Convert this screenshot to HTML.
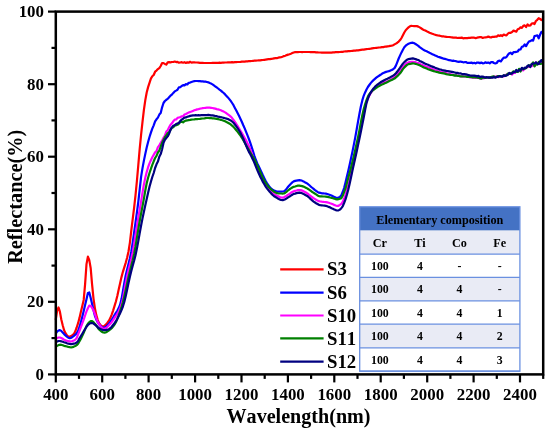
<!DOCTYPE html>
<html lang="en">
<head>
<meta charset="utf-8">
<title>Reflectance spectra</title>
<style>
html,body{margin:0;padding:0;background:#fff;}
body{width:550px;height:431px;overflow:hidden;font-family:"Liberation Serif",serif;}
</style>
</head>
<body>
<svg width="550" height="431" viewBox="0 0 550 431" style="display:block;font-kerning:none" font-family="'Liberation Serif','Times New Roman',serif" font-weight="bold" fill="#000">
<rect width="550" height="431" fill="#ffffff"/>
<g id="curves">
<path d="M55.7,320.0 57.1,310.7 58.5,307.4 59.9,311.7 61.3,319.5 62.7,325.3 64.1,330.3 65.5,333.2 66.9,335.2 68.3,336.5 69.7,336.7 71.1,336.1 72.5,335.2 73.9,333.9 75.3,331.3 76.7,327.5 78.1,323.2 79.5,317.9 80.9,311.7 82.3,306.0 83.7,299.9 85.1,284.2 86.5,264.1 87.9,256.7 89.3,260.1 90.7,268.3 92.1,284.7 93.5,298.6 94.9,308.1 96.3,315.1 97.7,319.8 99.1,323.3 100.5,325.0 101.9,326.1 103.3,326.4 104.7,325.6 106.1,324.3 107.5,322.7 108.9,320.7 110.3,318.1 111.7,314.6 113.1,310.6 114.5,306.2 115.9,301.5 117.3,295.9 118.7,289.5 120.1,283.2 121.5,277.1 122.9,271.8 124.3,267.3 125.7,262.8 127.1,257.7 128.5,251.5 129.9,242.6 131.3,230.5 132.7,219.2 134.1,207.9 135.5,195.3 136.9,181.0 138.3,165.1 139.7,148.9 141.1,134.7 142.5,121.9 143.9,109.9 145.3,100.1 146.7,92.5 148.1,87.1 149.5,82.8 150.9,78.6 152.3,76.3 153.7,75.0 155.1,71.7 156.5,70.6 157.9,69.1 159.3,68.1 160.7,66.0 162.1,63.1 163.5,63.1 164.9,63.9 166.3,64.6 167.7,62.4 169.1,62.1 170.5,62.3 171.9,62.0 173.3,62.0 174.7,61.5 176.1,62.1 177.5,61.9 178.9,62.7 180.3,62.5 181.7,62.2 183.1,62.7 184.5,62.2 185.9,62.9 187.3,62.4 188.7,62.7 190.1,61.8 191.5,62.6 192.9,62.4 194.3,62.4 195.7,62.5 197.1,62.5 198.5,62.7 199.9,62.9 201.3,62.8 202.7,62.9 204.1,63.0 205.5,63.0 206.9,63.0 208.3,63.0 209.7,63.0 211.1,63.0 212.5,62.9 213.9,62.9 215.3,62.9 216.7,62.8 218.1,62.8 219.5,62.7 220.9,62.8 222.3,62.7 223.7,62.6 225.1,62.5 226.5,62.5 227.9,62.4 229.3,62.4 230.7,62.4 232.1,62.2 233.5,62.3 234.9,62.1 236.3,62.1 237.7,62.0 239.1,62.0 240.5,61.9 241.9,61.7 243.3,61.7 244.7,61.6 246.1,61.4 247.5,61.3 248.9,61.2 250.3,61.1 251.7,61.0 253.1,60.8 254.5,60.7 255.9,60.6 257.3,60.5 258.7,60.3 260.1,60.3 261.5,60.1 262.9,60.0 264.3,59.8 265.7,59.6 267.1,59.4 268.5,59.2 269.9,59.1 271.3,58.9 272.7,58.7 274.1,58.4 275.5,58.2 276.9,58.1 278.3,57.7 279.7,57.4 281.1,57.1 282.5,56.7 283.9,56.1 285.3,55.7 286.7,55.1 288.1,54.6 289.5,54.2 290.9,53.7 292.3,53.1 293.7,52.5 295.1,52.2 296.5,52.1 297.9,52.1 299.3,52.0 300.7,52.0 302.1,52.1 303.5,52.0 304.9,52.0 306.3,52.0 307.7,52.0 309.1,52.0 310.5,52.1 311.9,52.1 313.3,52.1 314.7,52.2 316.1,52.4 317.5,52.4 318.9,52.5 320.3,52.5 321.7,52.6 323.1,52.7 324.5,52.7 325.9,52.7 327.3,52.7 328.7,52.7 330.1,52.6 331.5,52.6 332.9,52.4 334.3,52.4 335.7,52.2 337.1,52.2 338.5,52.1 339.9,52.0 341.3,51.9 342.7,51.8 344.1,51.5 345.5,51.4 346.9,51.4 348.3,51.2 349.7,51.1 351.1,51.0 352.5,50.8 353.9,50.6 355.3,50.6 356.7,50.4 358.1,50.3 359.5,50.1 360.9,49.9 362.3,49.7 363.7,49.6 365.1,49.3 366.5,49.1 367.9,49.0 369.3,48.8 370.7,48.7 372.1,48.4 373.5,48.2 374.9,48.0 376.3,47.8 377.7,47.7 379.1,47.5 380.5,47.4 381.9,47.2 383.3,47.1 384.7,46.7 386.1,46.6 387.5,46.3 388.9,46.1 390.3,45.8 391.7,45.6 393.1,45.2 394.5,44.4 395.9,43.6 397.3,42.7 398.7,41.6 400.1,40.1 401.5,38.0 402.9,35.3 404.3,32.5 405.7,30.2 407.1,28.8 408.5,27.4 409.9,26.3 411.3,25.9 412.7,26.0 414.1,26.1 415.5,26.0 416.9,26.1 418.3,26.6 419.7,27.4 421.1,28.3 422.5,29.2 423.9,30.0 425.3,30.6 426.7,31.3 428.1,31.9 429.5,32.7 430.9,33.2 432.3,33.8 433.7,34.3 435.1,34.7 436.5,35.2 437.9,35.5 439.3,35.7 440.7,36.0 442.1,36.3 443.5,36.3 444.9,36.7 446.3,36.8 447.7,37.0 449.1,37.0 450.5,37.2 451.9,37.3 453.3,37.6 454.7,37.6 456.1,37.7 457.5,38.0 458.9,37.8 460.3,37.9 461.7,37.6 463.1,38.3 464.5,38.2 465.9,38.2 467.3,38.1 468.7,37.9 470.1,37.9 471.5,37.7 472.9,37.7 474.3,37.7 475.7,38.1 477.1,37.7 478.5,37.4 479.9,37.2 481.3,37.1 482.7,38.0 484.1,37.5 485.5,37.3 486.9,37.1 488.3,36.6 489.7,37.1 491.1,37.5 492.5,36.8 493.9,36.8 495.3,36.6 496.7,36.6 498.1,35.4 499.5,35.9 500.9,35.2 502.3,36.0 503.7,34.5 505.1,35.1 506.5,35.4 507.9,33.6 509.3,32.8 510.7,32.8 512.1,32.0 513.5,30.6 514.9,31.1 516.3,31.7 517.7,29.2 519.1,28.7 520.5,27.3 521.9,27.9 523.3,25.9 524.7,25.4 526.1,27.1 527.5,24.4 528.9,25.7 530.3,25.5 531.7,23.6 533.1,23.2 534.5,24.0 535.9,21.0 537.3,19.8 538.7,18.2 540.1,19.0 541.5,20.0 542.9,18.7 543.0,16.4" fill="none" stroke="#ff0000" stroke-width="2.2" stroke-linejoin="round" stroke-linecap="butt"/>
<path d="M55.7,333.7 57.1,331.6 58.5,330.5 59.9,330.1 61.3,330.9 62.7,332.6 64.1,334.1 65.5,335.4 66.9,336.7 68.3,337.7 69.7,338.1 71.1,337.9 72.5,337.0 73.9,335.9 75.3,334.7 76.7,333.2 78.1,330.8 79.5,327.0 80.9,322.0 82.3,316.7 83.7,311.0 85.1,305.0 86.5,299.2 87.9,293.0 89.3,292.5 90.7,298.0 92.1,303.9 93.5,310.2 94.9,315.8 96.3,319.4 97.7,322.2 99.1,324.2 100.5,325.9 101.9,327.2 103.3,328.0 104.7,327.6 106.1,326.6 107.5,325.2 108.9,323.8 110.3,322.0 111.7,319.8 113.1,317.5 114.5,315.1 115.9,312.9 117.3,310.8 118.7,308.1 120.1,304.7 121.5,299.1 122.9,291.3 124.3,282.9 125.7,275.5 127.1,269.5 128.5,264.0 129.9,258.3 131.3,251.5 132.7,242.7 134.1,232.7 135.5,222.7 136.9,212.7 138.3,201.9 139.7,189.3 141.1,176.9 142.5,168.1 143.9,160.6 145.3,153.9 146.7,147.6 148.1,142.0 149.5,137.0 150.9,132.7 152.3,128.7 153.7,125.3 155.1,121.4 156.5,119.3 157.9,117.6 159.3,114.6 160.7,113.1 162.1,107.3 163.5,103.0 164.9,101.0 166.3,99.8 167.7,98.9 169.1,97.2 170.5,95.7 171.9,94.6 173.3,92.9 174.7,91.4 176.1,90.6 177.5,89.7 178.9,87.3 180.3,87.2 181.7,86.0 183.1,85.1 184.5,85.4 185.9,84.1 187.3,84.5 188.7,82.8 190.1,82.6 191.5,82.0 192.9,81.5 194.3,81.2 195.7,81.0 197.1,81.0 198.5,81.1 199.9,81.1 201.3,81.3 202.7,81.4 204.1,81.6 205.5,81.7 206.9,82.0 208.3,82.3 209.7,83.0 211.1,83.6 212.5,84.4 213.9,85.4 215.3,86.5 216.7,87.4 218.1,88.5 219.5,89.6 220.9,90.6 222.3,91.9 223.7,93.0 225.1,94.4 226.5,95.9 227.9,97.4 229.3,99.1 230.7,100.9 232.1,103.0 233.5,105.2 234.9,107.9 236.3,110.5 237.7,113.3 239.1,116.1 240.5,119.0 241.9,122.0 243.3,125.3 244.7,128.4 246.1,131.8 247.5,135.3 248.9,139.0 250.3,142.9 251.7,147.1 253.1,151.6 254.5,156.0 255.9,160.0 257.3,163.4 258.7,166.3 260.1,169.3 261.5,172.2 262.9,175.3 264.3,178.2 265.7,181.0 267.1,183.3 268.5,185.3 269.9,187.3 271.3,188.7 272.7,189.6 274.1,190.4 275.5,191.0 276.9,191.5 278.3,191.6 279.7,191.6 281.1,191.6 282.5,191.5 283.9,191.4 285.3,190.3 286.7,188.6 288.1,186.8 289.5,185.3 290.9,183.8 292.3,182.4 293.7,181.4 295.1,180.9 296.5,180.6 297.9,180.3 299.3,180.2 300.7,180.3 302.1,180.8 303.5,181.4 304.9,182.2 306.3,182.9 307.7,183.9 309.1,185.0 310.5,186.3 311.9,187.5 313.3,188.6 314.7,189.8 316.1,190.9 317.5,191.9 318.9,192.7 320.3,192.9 321.7,193.3 323.1,193.4 324.5,193.5 325.9,193.7 327.3,194.0 328.7,194.5 330.1,195.0 331.5,195.5 332.9,196.2 334.3,196.9 335.7,197.6 337.1,197.8 338.5,197.5 339.9,196.9 341.3,195.5 342.7,192.0 344.1,188.1 345.5,182.5 346.9,176.5 348.3,170.7 349.7,164.5 351.1,158.1 352.5,151.4 353.9,144.4 355.3,137.1 356.7,129.3 358.1,121.1 359.5,113.5 360.9,106.3 362.3,100.4 363.7,95.8 365.1,92.4 366.5,89.5 367.9,87.0 369.3,85.0 370.7,83.1 372.1,81.5 373.5,80.1 374.9,78.9 376.3,77.7 377.7,76.6 379.1,75.7 380.5,74.8 381.9,73.8 383.3,73.1 384.7,72.4 386.1,71.9 387.5,71.5 388.9,71.1 390.3,70.6 391.7,70.0 393.1,69.2 394.5,68.1 395.9,65.6 397.3,62.1 398.7,58.5 400.1,55.4 401.5,52.4 402.9,49.7 404.3,47.3 405.7,45.7 407.1,44.6 408.5,43.8 409.9,43.3 411.3,42.8 412.7,42.7 414.1,43.1 415.5,44.0 416.9,44.9 418.3,45.9 419.7,47.1 421.1,48.1 422.5,49.1 423.9,50.0 425.3,50.8 426.7,51.3 428.1,52.1 429.5,52.8 430.9,53.4 432.3,54.2 433.7,54.8 435.1,55.4 436.5,56.0 437.9,56.7 439.3,57.1 440.7,57.6 442.1,58.1 443.5,58.7 444.9,58.9 446.3,59.3 447.7,59.7 449.1,60.2 450.5,60.3 451.9,60.8 453.3,60.7 454.7,61.0 456.1,61.2 457.5,61.7 458.9,61.9 460.3,61.5 461.7,61.8 463.1,62.3 464.5,62.2 465.9,62.0 467.3,62.9 468.7,62.8 470.1,62.9 471.5,62.6 472.9,63.3 474.3,62.8 475.7,63.4 477.1,62.5 478.5,62.6 479.9,63.1 481.3,62.6 482.7,63.3 484.1,63.1 485.5,62.3 486.9,62.9 488.3,62.5 489.7,63.3 491.1,62.1 492.5,62.0 493.9,63.0 495.3,63.5 496.7,63.0 498.1,61.0 499.5,60.7 500.9,61.4 502.3,59.3 503.7,57.7 505.1,57.7 506.5,57.0 507.9,54.8 509.3,53.2 510.7,52.7 512.1,54.2 513.5,52.1 514.9,52.1 516.3,51.8 517.7,51.5 519.1,49.5 520.5,49.5 521.9,46.8 523.3,46.4 524.7,44.4 526.1,46.2 527.5,43.6 528.9,41.5 530.3,41.1 531.7,40.2 533.1,40.6 534.5,36.1 535.9,35.7 537.3,35.3 538.7,38.4 540.1,34.6 541.5,31.8 542.9,32.2 543.0,34.4" fill="none" stroke="#0000ff" stroke-width="2.2" stroke-linejoin="round" stroke-linecap="butt"/>
<path d="M55.7,338.9 57.1,338.0 58.5,337.5 59.9,337.5 61.3,338.0 62.7,338.8 64.1,339.7 65.5,340.3 66.9,340.7 68.3,341.2 69.7,341.3 71.1,341.5 72.5,341.1 73.9,340.5 75.3,339.6 76.7,338.0 78.1,334.4 79.5,330.8 80.9,327.1 82.3,323.4 83.7,319.6 85.1,315.5 86.5,311.4 87.9,308.3 89.3,305.6 90.7,305.8 92.1,307.9 93.5,310.4 94.9,313.9 96.3,318.3 97.7,321.9 99.1,324.1 100.5,326.1 101.9,327.7 103.3,328.8 104.7,328.7 106.1,328.0 107.5,326.7 108.9,325.3 110.3,323.8 111.7,322.1 113.1,320.1 114.5,318.0 115.9,316.0 117.3,313.8 118.7,311.2 120.1,308.2 121.5,304.4 122.9,298.7 124.3,291.3 125.7,283.3 127.1,276.0 128.5,270.0 129.9,264.5 131.3,258.9 132.7,252.5 134.1,244.4 135.5,235.2 136.9,226.2 138.3,217.7 139.7,209.6 141.1,201.4 142.5,192.7 143.9,184.4 145.3,177.8 146.7,172.1 148.1,167.2 149.5,163.4 150.9,160.2 152.3,157.3 153.7,154.9 155.1,152.4 156.5,151.1 157.9,147.1 159.3,145.4 160.7,142.9 162.1,140.7 163.5,137.8 164.9,135.5 166.3,131.5 167.7,130.2 169.1,127.3 170.5,124.7 171.9,123.4 173.3,121.3 174.7,119.6 176.1,119.4 177.5,117.9 178.9,117.5 180.3,117.2 181.7,116.3 183.1,116.2 184.5,114.5 185.9,113.9 187.3,113.2 188.7,112.6 190.1,112.0 191.5,111.5 192.9,110.9 194.3,110.3 195.7,109.9 197.1,109.4 198.5,109.1 199.9,108.7 201.3,108.5 202.7,108.2 204.1,108.0 205.5,107.8 206.9,107.7 208.3,107.6 209.7,107.6 211.1,107.8 212.5,108.0 213.9,108.3 215.3,108.6 216.7,109.1 218.1,109.4 219.5,109.8 220.9,110.2 222.3,110.9 223.7,111.6 225.1,112.4 226.5,113.3 227.9,114.3 229.3,115.4 230.7,116.6 232.1,118.1 233.5,120.0 234.9,122.0 236.3,124.0 237.7,126.2 239.1,128.5 240.5,130.8 241.9,133.1 243.3,135.5 244.7,138.0 246.1,140.6 247.5,143.4 248.9,146.3 250.3,149.4 251.7,153.2 253.1,157.5 254.5,161.3 255.9,164.6 257.3,167.6 258.7,170.7 260.1,173.8 261.5,176.8 262.9,179.7 264.3,182.3 265.7,184.7 267.1,186.6 268.5,188.4 269.9,190.2 271.3,191.9 272.7,193.0 274.1,194.1 275.5,194.9 276.9,195.7 278.3,196.2 279.7,196.9 281.1,197.5 282.5,197.6 283.9,197.3 285.3,196.6 286.7,195.7 288.1,194.8 289.5,193.8 290.9,192.8 292.3,191.9 293.7,191.2 295.1,190.8 296.5,190.5 297.9,190.1 299.3,190.0 300.7,190.1 302.1,190.6 303.5,191.3 304.9,192.0 306.3,192.8 307.7,193.6 309.1,194.8 310.5,195.8 311.9,197.0 313.3,198.0 314.7,198.9 316.1,199.8 317.5,200.6 318.9,201.2 320.3,201.5 321.7,201.7 323.1,201.8 324.5,202.0 325.9,202.2 327.3,202.4 328.7,202.8 330.1,203.3 331.5,203.7 332.9,204.3 334.3,204.9 335.7,205.5 337.1,205.9 338.5,205.8 339.9,204.9 341.3,203.9 342.7,201.9 344.1,198.8 345.5,195.2 346.9,190.3 348.3,185.4 349.7,179.9 351.1,174.2 352.5,168.1 353.9,161.6 355.3,155.0 356.7,148.3 358.1,141.4 359.5,134.5 360.9,127.4 362.3,120.1 363.7,113.6 365.1,107.2 366.5,102.1 367.9,98.4 369.3,95.6 370.7,93.1 372.1,91.0 373.5,89.3 374.9,87.8 376.3,86.5 377.7,85.5 379.1,84.5 380.5,83.6 381.9,83.1 383.3,82.4 384.7,81.9 386.1,81.6 387.5,81.2 388.9,80.7 390.3,79.9 391.7,79.0 393.1,78.0 394.5,76.7 395.9,75.5 397.3,74.1 398.7,72.6 400.1,71.0 401.5,68.9 402.9,66.9 404.3,65.3 405.7,64.0 407.1,63.0 408.5,62.4 409.9,62.1 411.3,61.9 412.7,61.8 414.1,62.1 415.5,62.2 416.9,62.7 418.3,63.1 419.7,63.8 421.1,64.5 422.5,65.0 423.9,65.7 425.3,66.3 426.7,66.9 428.1,67.4 429.5,67.9 430.9,68.5 432.3,69.0 433.7,69.5 435.1,70.0 436.5,70.4 437.9,71.0 439.3,71.3 440.7,71.8 442.1,72.2 443.5,72.5 444.9,72.9 446.3,73.2 447.7,73.5 449.1,73.8 450.5,74.2 451.9,74.5 453.3,74.9 454.7,75.0 456.1,75.4 457.5,75.5 458.9,75.7 460.3,76.1 461.7,76.4 463.1,76.3 464.5,76.5 465.9,76.7 467.3,76.9 468.7,76.9 470.1,77.5 471.5,77.3 472.9,77.7 474.3,77.5 475.7,77.9 477.1,78.0 478.5,77.8 479.9,78.6 481.3,78.1 482.7,78.5 484.1,78.2 485.5,77.5 486.9,77.5 488.3,77.7 489.7,77.5 491.1,77.4 492.5,77.2 493.9,76.5 495.3,77.1 496.7,76.1 498.1,77.2 499.5,76.6 500.9,76.4 502.3,76.5 503.7,76.5 505.1,75.2 506.5,74.6 507.9,74.5 509.3,73.4 510.7,73.5 512.1,74.6 513.5,72.4 514.9,73.0 516.3,71.1 517.7,71.6 519.1,70.6 520.5,70.2 521.9,70.0 523.3,70.3 524.7,68.5 526.1,67.9 527.5,66.4 528.9,67.0 530.3,65.7 531.7,66.1 533.1,64.9 534.5,66.0 535.9,62.4 537.3,63.4 538.7,64.1 540.1,62.7 541.5,62.0 542.9,62.3 543.0,61.2" fill="none" stroke="#ff00ff" stroke-width="2.2" stroke-linejoin="round" stroke-linecap="butt"/>
<path d="M55.7,346.9 57.1,345.9 58.5,345.1 59.9,344.7 61.3,344.8 62.7,345.2 64.1,345.8 65.5,346.1 66.9,346.5 68.3,346.9 69.7,347.2 71.1,347.3 72.5,347.1 73.9,346.6 75.3,346.0 76.7,345.1 78.1,343.7 79.5,341.3 80.9,338.7 82.3,335.8 83.7,332.8 85.1,329.4 86.5,326.1 87.9,323.7 89.3,322.1 90.7,321.1 92.1,321.2 93.5,322.2 94.9,323.9 96.3,325.3 97.7,327.5 99.1,329.5 100.5,330.7 101.9,331.8 103.3,332.5 104.7,332.7 106.1,332.3 107.5,331.3 108.9,330.5 110.3,329.4 111.7,328.2 113.1,326.6 114.5,324.7 115.9,322.2 117.3,319.1 118.7,315.4 120.1,311.3 121.5,307.0 122.9,302.3 124.3,296.5 125.7,290.2 127.1,283.7 128.5,277.3 129.9,271.4 131.3,265.8 132.7,260.2 134.1,253.9 135.5,246.5 136.9,237.9 138.3,229.0 139.7,221.0 141.1,213.5 142.5,206.3 143.9,198.6 145.3,190.5 146.7,183.3 148.1,177.7 149.5,173.0 150.9,168.8 152.3,164.9 153.7,161.3 155.1,158.0 156.5,155.9 157.9,152.5 159.3,150.7 160.7,146.6 162.1,142.8 163.5,140.0 164.9,137.3 166.3,135.5 167.7,133.1 169.1,132.3 170.5,129.8 171.9,127.7 173.3,127.3 174.7,125.4 176.1,125.3 177.5,124.8 178.9,123.7 180.3,121.9 181.7,121.6 183.1,122.4 184.5,121.2 185.9,120.6 187.3,120.3 188.7,120.1 190.1,119.9 191.5,119.6 192.9,119.5 194.3,119.4 195.7,119.2 197.1,119.1 198.5,119.0 199.9,118.9 201.3,118.7 202.7,118.5 204.1,118.5 205.5,118.1 206.9,118.0 208.3,118.0 209.7,118.1 211.1,118.2 212.5,118.3 213.9,118.4 215.3,118.6 216.7,118.9 218.1,119.2 219.5,119.5 220.9,119.8 222.3,120.2 223.7,120.7 225.1,121.3 226.5,122.0 227.9,122.7 229.3,123.5 230.7,124.4 232.1,125.7 233.5,126.9 234.9,128.5 236.3,130.2 237.7,131.9 239.1,133.8 240.5,135.7 241.9,137.8 243.3,140.1 244.7,142.4 246.1,145.1 247.5,147.6 248.9,150.1 250.3,152.5 251.7,154.8 253.1,157.1 254.5,159.4 255.9,162.2 257.3,165.2 258.7,168.4 260.1,171.7 261.5,174.8 262.9,177.9 264.3,180.6 265.7,182.8 267.1,184.9 268.5,186.7 269.9,188.3 271.3,189.6 272.7,190.7 274.1,191.8 275.5,192.6 276.9,193.2 278.3,193.4 279.7,193.5 281.1,193.5 282.5,193.6 283.9,193.5 285.3,192.7 286.7,191.6 288.1,190.3 289.5,189.3 290.9,188.4 292.3,187.5 293.7,186.8 295.1,186.5 296.5,186.0 297.9,185.7 299.3,185.6 300.7,185.8 302.1,186.1 303.5,186.6 304.9,187.2 306.3,187.9 307.7,188.7 309.1,189.6 310.5,190.6 311.9,191.7 313.3,192.6 314.7,193.5 316.1,194.4 317.5,195.4 318.9,196.1 320.3,196.3 321.7,196.4 323.1,196.5 324.5,196.5 325.9,196.7 327.3,196.9 328.7,197.1 330.1,197.5 331.5,197.8 332.9,198.2 334.3,198.6 335.7,199.2 337.1,199.4 338.5,199.2 339.9,198.8 341.3,198.2 342.7,195.8 344.1,192.2 345.5,188.4 346.9,182.9 348.3,177.6 349.7,172.6 351.1,167.3 352.5,161.6 353.9,155.8 355.3,149.6 356.7,143.3 358.1,136.9 359.5,130.0 360.9,122.3 362.3,115.2 363.7,109.3 365.1,104.4 366.5,100.1 367.9,96.6 369.3,94.1 370.7,92.4 372.1,91.0 373.5,89.9 374.9,88.8 376.3,87.9 377.7,86.9 379.1,86.1 380.5,85.3 381.9,84.6 383.3,84.0 384.7,83.3 386.1,82.7 387.5,82.0 388.9,81.3 390.3,80.6 391.7,80.0 393.1,79.3 394.5,78.6 395.9,77.4 397.3,76.2 398.7,74.8 400.1,73.3 401.5,71.3 402.9,69.1 404.3,67.5 405.7,66.1 407.1,64.9 408.5,64.1 409.9,63.8 411.3,63.6 412.7,63.3 414.1,63.5 415.5,63.8 416.9,64.2 418.3,64.7 419.7,65.3 421.1,66.1 422.5,66.7 423.9,67.5 425.3,68.0 426.7,68.6 428.1,69.2 429.5,69.6 430.9,70.1 432.3,70.6 433.7,71.1 435.1,71.5 436.5,71.8 437.9,72.1 439.3,72.6 440.7,73.0 442.1,73.2 443.5,73.4 444.9,73.6 446.3,74.1 447.7,74.5 449.1,74.6 450.5,74.9 451.9,75.0 453.3,75.1 454.7,75.6 456.1,75.4 457.5,75.8 458.9,76.0 460.3,76.3 461.7,76.4 463.1,76.5 464.5,76.5 465.9,76.5 467.3,76.9 468.7,76.9 470.1,76.9 471.5,77.1 472.9,77.4 474.3,77.2 475.7,77.4 477.1,77.4 478.5,78.0 479.9,78.1 481.3,78.6 482.7,77.4 484.1,77.6 485.5,78.0 486.9,77.5 488.3,77.3 489.7,78.0 491.1,77.0 492.5,76.6 493.9,76.4 495.3,77.0 496.7,76.9 498.1,76.0 499.5,76.0 500.9,76.6 502.3,76.4 503.7,75.4 505.1,75.8 506.5,75.3 507.9,73.5 509.3,73.9 510.7,73.8 512.1,72.7 513.5,71.3 514.9,71.9 516.3,72.0 517.7,72.0 519.1,68.8 520.5,71.6 521.9,68.3 523.3,69.2 524.7,68.8 526.1,68.0 527.5,66.7 528.9,65.1 530.3,65.9 531.7,64.3 533.1,62.3 534.5,66.4 535.9,64.1 537.3,64.7 538.7,61.9 540.1,63.8 541.5,63.7 542.9,63.5 543.0,62.0" fill="none" stroke="#008000" stroke-width="2.2" stroke-linejoin="round" stroke-linecap="butt"/>
<path d="M55.7,342.4 57.1,341.6 58.5,341.0 59.9,341.0 61.3,341.3 62.7,341.7 64.1,342.2 65.5,342.6 66.9,343.2 68.3,343.6 69.7,343.8 71.1,344.1 72.5,343.9 73.9,343.6 75.3,343.3 76.7,342.6 78.1,341.0 79.5,338.3 80.9,336.0 82.3,333.7 83.7,331.3 85.1,329.0 86.5,326.7 87.9,325.0 89.3,323.9 90.7,323.1 92.1,323.0 93.5,323.6 94.9,324.7 96.3,325.8 97.7,327.1 99.1,328.3 100.5,329.0 101.9,329.6 103.3,330.0 104.7,330.1 106.1,329.9 107.5,329.6 108.9,329.2 110.3,328.2 111.7,326.8 113.1,325.0 114.5,323.2 115.9,321.2 117.3,318.7 118.7,316.1 120.1,313.2 121.5,310.1 122.9,306.5 124.3,302.0 125.7,296.2 127.1,289.8 128.5,283.0 129.9,276.8 131.3,271.1 132.7,265.8 134.1,260.8 135.5,255.2 136.9,248.6 138.3,241.1 139.7,233.1 141.1,225.5 142.5,218.4 143.9,211.7 145.3,205.2 146.7,198.9 148.1,192.7 149.5,186.8 150.9,181.7 152.3,177.0 153.7,173.0 155.1,168.0 156.5,164.3 157.9,161.6 159.3,156.7 160.7,154.1 162.1,149.2 163.5,142.9 164.9,139.8 166.3,138.0 167.7,136.4 169.1,133.7 170.5,129.8 171.9,127.4 173.3,125.8 174.7,125.3 176.1,124.0 177.5,123.4 178.9,123.0 180.3,121.0 181.7,119.6 183.1,118.7 184.5,117.6 185.9,117.4 187.3,116.8 188.7,116.4 190.1,115.9 191.5,115.6 192.9,115.3 194.3,115.3 195.7,115.2 197.1,115.3 198.5,115.2 199.9,115.3 201.3,115.2 202.7,115.2 204.1,115.1 205.5,115.1 206.9,115.1 208.3,114.9 209.7,115.1 211.1,115.3 212.5,115.4 213.9,115.7 215.3,116.0 216.7,116.2 218.1,116.6 219.5,116.8 220.9,117.2 222.3,117.5 223.7,117.8 225.1,118.2 226.5,118.6 227.9,119.0 229.3,119.8 230.7,120.4 232.1,121.5 233.5,122.8 234.9,124.5 236.3,126.4 237.7,128.4 239.1,130.5 240.5,132.9 241.9,135.8 243.3,138.7 244.7,142.3 246.1,145.7 247.5,148.9 248.9,151.9 250.3,154.3 251.7,157.0 253.1,159.9 254.5,163.0 255.9,166.6 257.3,170.1 258.7,173.3 260.1,176.4 261.5,179.1 262.9,181.9 264.3,184.2 265.7,186.6 267.1,188.6 268.5,190.4 269.9,192.1 271.3,193.6 272.7,195.0 274.1,196.2 275.5,197.0 276.9,197.9 278.3,198.8 279.7,199.4 281.1,200.0 282.5,200.1 283.9,199.8 285.3,199.2 286.7,198.4 288.1,197.4 289.5,196.6 290.9,195.6 292.3,194.7 293.7,193.9 295.1,193.6 296.5,193.1 297.9,192.8 299.3,192.7 300.7,192.9 302.1,193.3 303.5,193.9 304.9,194.7 306.3,195.5 307.7,196.3 309.1,197.5 310.5,198.9 311.9,200.1 313.3,201.3 314.7,202.3 316.1,203.2 317.5,204.0 318.9,204.8 320.3,205.1 321.7,205.3 323.1,205.5 324.5,205.7 325.9,205.9 327.3,206.3 328.7,206.9 330.1,207.4 331.5,208.2 332.9,208.8 334.3,209.5 335.7,210.1 337.1,210.5 338.5,210.4 339.9,209.6 341.3,208.2 342.7,206.3 344.1,203.0 345.5,199.4 346.9,194.8 348.3,189.5 349.7,183.5 351.1,177.1 352.5,170.4 353.9,164.1 355.3,157.8 356.7,151.5 358.1,144.8 359.5,138.3 360.9,131.6 362.3,124.6 363.7,117.5 365.1,110.0 366.5,103.1 367.9,98.6 369.3,95.2 370.7,92.6 372.1,90.3 373.5,88.4 374.9,86.9 376.3,85.5 377.7,84.3 379.1,83.3 380.5,82.3 381.9,81.5 383.3,80.7 384.7,79.9 386.1,79.3 387.5,78.7 388.9,77.9 390.3,77.2 391.7,76.4 393.1,75.6 394.5,74.6 395.9,73.3 397.3,71.5 398.7,69.6 400.1,67.7 401.5,65.7 402.9,63.7 404.3,62.1 405.7,60.9 407.1,59.7 408.5,59.1 409.9,58.8 411.3,58.6 412.7,58.4 414.1,58.7 415.5,59.1 416.9,59.6 418.3,60.0 419.7,60.9 421.1,61.6 422.5,62.3 423.9,63.0 425.3,63.7 426.7,64.3 428.1,64.8 429.5,65.4 430.9,66.1 432.3,66.6 433.7,67.1 435.1,67.7 436.5,68.2 437.9,68.7 439.3,69.3 440.7,69.5 442.1,70.0 443.5,70.3 444.9,70.6 446.3,70.9 447.7,71.0 449.1,71.3 450.5,71.6 451.9,71.9 453.3,72.2 454.7,72.5 456.1,72.8 457.5,72.8 458.9,73.5 460.3,73.4 461.7,73.8 463.1,74.1 464.5,74.2 465.9,74.4 467.3,74.7 468.7,75.1 470.1,75.5 471.5,75.7 472.9,75.5 474.3,75.7 475.7,75.9 477.1,76.4 478.5,75.9 479.9,77.0 481.3,76.6 482.7,76.6 484.1,77.1 485.5,77.4 486.9,77.2 488.3,77.6 489.7,77.3 491.1,77.7 492.5,77.7 493.9,77.0 495.3,77.7 496.7,77.0 498.1,76.8 499.5,76.2 500.9,76.4 502.3,76.7 503.7,75.3 505.1,76.0 506.5,75.4 507.9,74.8 509.3,72.9 510.7,73.6 512.1,73.5 513.5,72.1 514.9,72.1 516.3,69.9 517.7,71.4 519.1,69.9 520.5,70.3 521.9,67.8 523.3,69.0 524.7,67.7 526.1,67.8 527.5,65.8 528.9,65.4 530.3,67.1 531.7,64.0 533.1,63.6 534.5,63.5 535.9,62.3 537.3,63.8 538.7,63.9 540.1,61.4 541.5,60.1 542.9,62.6 543.0,62.6" fill="none" stroke="#000080" stroke-width="2.2" stroke-linejoin="round" stroke-linecap="butt"/>
</g>
<g id="legend">
<line x1="280.2" y1="269.3" x2="323.6" y2="269.3" stroke="#ff0000" stroke-width="2.2"/>
<text x="327" y="275.4" font-size="18.8">S3</text>
<line x1="280.2" y1="292.6" x2="323.6" y2="292.6" stroke="#0000ff" stroke-width="2.2"/>
<text x="327" y="298.7" font-size="18.8">S6</text>
<line x1="280.2" y1="315.5" x2="323.6" y2="315.5" stroke="#ff00ff" stroke-width="2.2"/>
<text x="327" y="321.6" font-size="18.8">S10</text>
<line x1="280.2" y1="338.4" x2="323.6" y2="338.4" stroke="#008000" stroke-width="2.2"/>
<text x="327" y="344.5" font-size="18.8">S11</text>
<line x1="280.2" y1="361.6" x2="323.6" y2="361.6" stroke="#000080" stroke-width="2.2"/>
<text x="327" y="367.7" font-size="18.8">S12</text>
</g>
<g id="table">
<rect x="359.7" y="206.8" width="160.2" height="164.4" fill="#ffffff"/>
<rect x="359.7" y="206.8" width="160.2" height="23.8" fill="#4472c4"/>
<rect x="359.7" y="230.6" width="160.2" height="23.6" fill="#e9ebf5"/>
<rect x="359.7" y="277.4" width="160.2" height="23.4" fill="#e9ebf5"/>
<rect x="359.7" y="324.2" width="160.2" height="23.6" fill="#e9ebf5"/>
<line x1="359.7" y1="254.2" x2="519.9" y2="254.2" stroke="#6a90e0" stroke-width="1.2"/>
<line x1="359.7" y1="277.4" x2="519.9" y2="277.4" stroke="#6a90e0" stroke-width="1.2"/>
<line x1="359.7" y1="300.8" x2="519.9" y2="300.8" stroke="#6a90e0" stroke-width="1.2"/>
<line x1="359.7" y1="324.2" x2="519.9" y2="324.2" stroke="#6a90e0" stroke-width="1.2"/>
<line x1="359.7" y1="347.8" x2="519.9" y2="347.8" stroke="#6a90e0" stroke-width="1.2"/>
<line x1="359.7" y1="371.2" x2="519.9" y2="371.2" stroke="#6a90e0" stroke-width="1.2"/>
<rect x="359.7" y="206.8" width="160.2" height="164.4" fill="none" stroke="#6a90e0" stroke-width="1.3"/>
<text x="439.8" y="224" text-anchor="middle" font-size="12.2">Elementary composition</text>
<text x="379.9" y="247.3" text-anchor="middle" font-size="12.2" fill="#000">Cr</text>
<text x="419.9" y="247.3" text-anchor="middle" font-size="12.2" fill="#000">Ti</text>
<text x="459.4" y="247.3" text-anchor="middle" font-size="12.2" fill="#000">Co</text>
<text x="499.7" y="247.3" text-anchor="middle" font-size="12.2" fill="#000">Fe</text>
<text x="379.9" y="269.9" text-anchor="middle" font-size="11.8" fill="#000">100</text>
<text x="419.9" y="269.9" text-anchor="middle" font-size="11.8" fill="#000">4</text>
<text x="459.4" y="269.9" text-anchor="middle" font-size="11.8" fill="#000">-</text>
<text x="499.7" y="269.9" text-anchor="middle" font-size="11.8" fill="#000">-</text>
<text x="379.9" y="293.2" text-anchor="middle" font-size="11.8" fill="#000">100</text>
<text x="419.9" y="293.2" text-anchor="middle" font-size="11.8" fill="#000">4</text>
<text x="459.4" y="293.2" text-anchor="middle" font-size="11.8" fill="#000">4</text>
<text x="499.7" y="293.2" text-anchor="middle" font-size="11.8" fill="#000">-</text>
<text x="379.9" y="316.6" text-anchor="middle" font-size="11.8" fill="#000">100</text>
<text x="419.9" y="316.6" text-anchor="middle" font-size="11.8" fill="#000">4</text>
<text x="459.4" y="316.6" text-anchor="middle" font-size="11.8" fill="#000">4</text>
<text x="499.7" y="316.6" text-anchor="middle" font-size="11.8" fill="#000">1</text>
<text x="379.9" y="340.1" text-anchor="middle" font-size="11.8" fill="#000">100</text>
<text x="419.9" y="340.1" text-anchor="middle" font-size="11.8" fill="#000">4</text>
<text x="459.4" y="340.1" text-anchor="middle" font-size="11.8" fill="#000">4</text>
<text x="499.7" y="340.1" text-anchor="middle" font-size="11.8" fill="#000">2</text>
<text x="379.9" y="363.6" text-anchor="middle" font-size="11.8" fill="#000">100</text>
<text x="419.9" y="363.6" text-anchor="middle" font-size="11.8" fill="#000">4</text>
<text x="459.4" y="363.6" text-anchor="middle" font-size="11.8" fill="#000">4</text>
<text x="499.7" y="363.6" text-anchor="middle" font-size="11.8" fill="#000">3</text>
</g>
<g id="axes" stroke="#000" stroke-width="2.2" fill="none">
<rect x="55.8" y="11.6" width="487.4" height="362.8" stroke-width="2.5"/>
<line x1="55.8" y1="374.4" x2="55.8" y2="382.4"/>
<line x1="79.0" y1="374.4" x2="79.0" y2="378.9"/>
<line x1="102.2" y1="374.4" x2="102.2" y2="382.4"/>
<line x1="125.4" y1="374.4" x2="125.4" y2="378.9"/>
<line x1="148.6" y1="374.4" x2="148.6" y2="382.4"/>
<line x1="171.8" y1="374.4" x2="171.8" y2="378.9"/>
<line x1="195.1" y1="374.4" x2="195.1" y2="382.4"/>
<line x1="218.3" y1="374.4" x2="218.3" y2="378.9"/>
<line x1="241.5" y1="374.4" x2="241.5" y2="382.4"/>
<line x1="264.7" y1="374.4" x2="264.7" y2="378.9"/>
<line x1="287.9" y1="374.4" x2="287.9" y2="382.4"/>
<line x1="311.1" y1="374.4" x2="311.1" y2="378.9"/>
<line x1="334.3" y1="374.4" x2="334.3" y2="382.4"/>
<line x1="357.5" y1="374.4" x2="357.5" y2="378.9"/>
<line x1="380.7" y1="374.4" x2="380.7" y2="382.4"/>
<line x1="403.9" y1="374.4" x2="403.9" y2="378.9"/>
<line x1="427.2" y1="374.4" x2="427.2" y2="382.4"/>
<line x1="450.4" y1="374.4" x2="450.4" y2="378.9"/>
<line x1="473.6" y1="374.4" x2="473.6" y2="382.4"/>
<line x1="496.8" y1="374.4" x2="496.8" y2="378.9"/>
<line x1="520.0" y1="374.4" x2="520.0" y2="382.4"/>
<line x1="543.2" y1="374.4" x2="543.2" y2="378.9"/>
<line x1="55.8" y1="374.4" x2="48.0" y2="374.4"/>
<line x1="55.8" y1="338.1" x2="51.5" y2="338.1"/>
<line x1="55.8" y1="301.8" x2="48.0" y2="301.8"/>
<line x1="55.8" y1="265.6" x2="51.5" y2="265.6"/>
<line x1="55.8" y1="229.3" x2="48.0" y2="229.3"/>
<line x1="55.8" y1="193.0" x2="51.5" y2="193.0"/>
<line x1="55.8" y1="156.7" x2="48.0" y2="156.7"/>
<line x1="55.8" y1="120.4" x2="51.5" y2="120.4"/>
<line x1="55.8" y1="84.2" x2="48.0" y2="84.2"/>
<line x1="55.8" y1="47.9" x2="51.5" y2="47.9"/>
<line x1="55.8" y1="11.6" x2="48.0" y2="11.6"/>
</g>
<g id="xlabels" font-size="16.9">
<text x="55.8" y="399.7" text-anchor="middle">400</text>
<text x="102.2" y="399.7" text-anchor="middle">600</text>
<text x="148.6" y="399.7" text-anchor="middle">800</text>
<text x="195.1" y="399.7" text-anchor="middle">1000</text>
<text x="241.5" y="399.7" text-anchor="middle">1200</text>
<text x="287.9" y="399.7" text-anchor="middle">1400</text>
<text x="334.3" y="399.7" text-anchor="middle">1600</text>
<text x="380.7" y="399.7" text-anchor="middle">1800</text>
<text x="427.2" y="399.7" text-anchor="middle">2000</text>
<text x="473.6" y="399.7" text-anchor="middle">2200</text>
<text x="520.0" y="399.7" text-anchor="middle">2400</text>
</g>
<g id="ylabels" font-size="16.9">
<text x="44" y="380.0" text-anchor="end">0</text>
<text x="44" y="307.4" text-anchor="end">20</text>
<text x="44" y="234.9" text-anchor="end">40</text>
<text x="44" y="162.3" text-anchor="end">60</text>
<text x="44" y="89.8" text-anchor="end">80</text>
<text x="44" y="17.2" text-anchor="end">100</text>
</g>
<text x="298.5" y="422.6" text-anchor="middle" font-size="20.1">Wavelength(nm)</text>
<text transform="translate(22.2,196.8) rotate(-90)" text-anchor="middle" font-size="20.3">Reflectance(%)</text>
</svg>
</body>
</html>
